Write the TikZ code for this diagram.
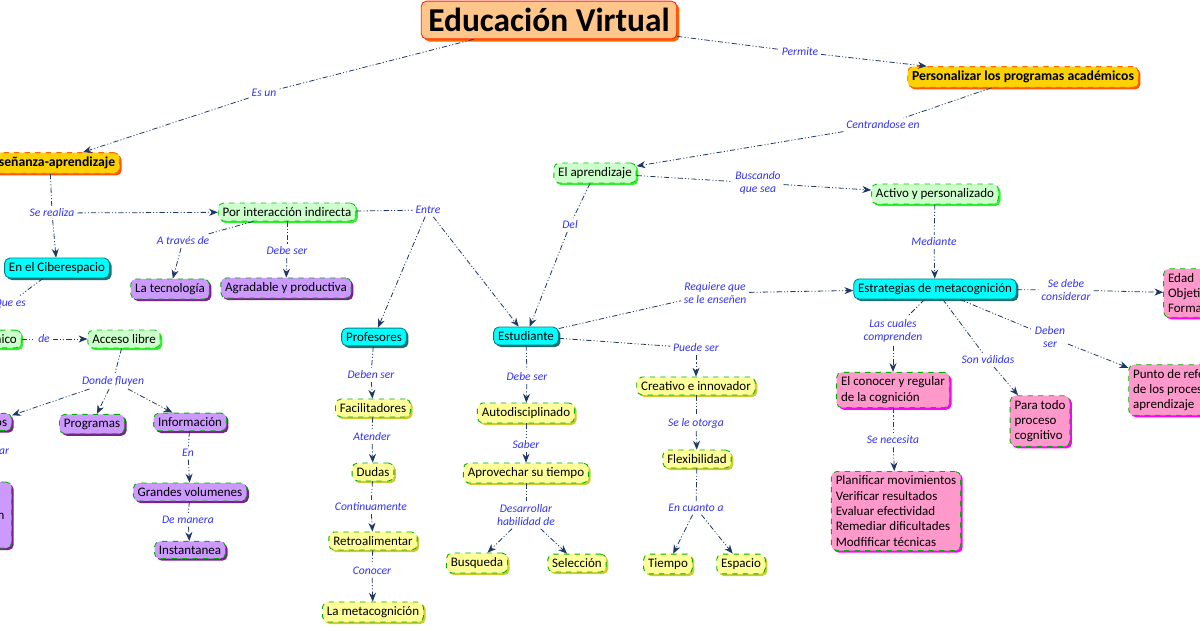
\documentclass[tikz,border=0pt]{standalone}
\usepackage{fontspec}
\setmainfont{Carlito}
\usetikzlibrary{shadows,arrows.meta}
\definecolor{lnc}{HTML}{1F3864}
\definecolor{lbc}{HTML}{3333EE}
\definecolor{cyfill}{HTML}{00FFFF}
\definecolor{cysh}{HTML}{1F6F6F}
\definecolor{pufill}{HTML}{CC99FF}
\definecolor{push}{HTML}{7A1F8F}
\definecolor{pkfill}{HTML}{FF99CC}
\definecolor{pksh}{HTML}{FF00FF}
\definecolor{yefill}{HTML}{FFFF99}
\definecolor{yesh}{HTML}{CCCC33}
\definecolor{grfill}{HTML}{CCFFCC}
\definecolor{grsh}{HTML}{33EE33}
\tikzset{
 box/.style={rounded corners=3pt,dashed,line width=0.5pt,inner sep=2.5pt,font=\fontsize{7.4}{8.7}\selectfont,align=left},
 orangebox/.style={box,draw=orange!80!red,fill=#1,drop shadow={shadow xshift=1.2pt,shadow yshift=-1.2pt,fill=orange!70!red,opacity=1}},
 gold/.style={orangebox=yellow!70!orange},
 grn/.style={box,draw=green!80!black,fill=grfill,drop shadow={shadow xshift=1.2pt,shadow yshift=-1.2pt,fill=grsh,opacity=1}},
 cyn/.style={box,draw=teal,fill=cyfill,solid,drop shadow={shadow xshift=1.2pt,shadow yshift=-1.2pt,fill=cysh,opacity=1}},
 pur/.style={box,draw=green!70!black,fill=pufill,drop shadow={shadow xshift=1.2pt,shadow yshift=-1.2pt,fill=push,opacity=1}},
 yel/.style={box,draw=green!70!black,fill=yefill,drop shadow={shadow xshift=1.2pt,shadow yshift=-1.2pt,fill=yesh,opacity=1}},
 pnk/.style={box,draw=green!70!black,fill=pkfill,drop shadow={shadow xshift=1.2pt,shadow yshift=-1.2pt,fill=pksh,opacity=1}},
 lab/.style={font=\fontsize{6.6}{7.6}\selectfont\itshape,text=lbc,align=center,inner sep=1.5pt},
 ln/.style={draw=lnc,line width=0.45pt,dash pattern=on 3pt off 1.2pt on 0.6pt off 1.2pt on 0.6pt off 1.2pt},
 ar/.style={ln,-{Stealth[length=5pt,width=4pt]}},
}
\begin{document}
\begin{tikzpicture}[x=0.02cm,y=-0.02cm]
\useasboundingbox (0,0) rectangle (1200,630);
\clip (0,0) rectangle (1200,630);
\fill[white] (0,0) rectangle (1200,630);
% nodes
\node[box,draw=red!70!orange,solid,fill=orange!45,font=\fontsize{19}{22}\selectfont\bfseries,inner sep=4pt,drop shadow={shadow xshift=1.5pt,shadow yshift=-1.5pt,fill=orange!80!red,opacity=1}] (t) at (549,20) {Educación Virtual};
\node[gold,font=\fontsize{7.8}{9}\selectfont\bfseries] (per) at (1023,77) {Personalizar los programas académicos};
\node[gold,font=\fontsize{7.8}{9}\selectfont\bfseries] (ens) at (50,163) {Enseñanza-aprendizaje};
\node[grn] (pii) at (287,212) {Por interacción indirecta};
\node[cyn] (cib) at (57,268) {En el Ciberespacio};
\node[pur] (tec) at (170,289) {La tecnología};
\node[pur] (agr) at (286,288) {Agradable y productiva};
\node[grn] (nic) at (-8,339) {Dinámico};
\node[grn] (acc) at (124,339) {Acceso libre};
\node[pur,anchor=east] (ss) at (12,422) {Datos};
\node[pur] (prg) at (92,424) {Programas};
\node[pur] (inf) at (190,422) {Información};
\node[pur] (gra) at (190,492) {Grandes volumenes};
\node[pur] (ins) at (190,550) {Instantanea};
\node[pur,anchor=east,minimum height=1.32cm,inner sep=4pt] (nn) at (12,515) {Comunicación};
\node[lab] (lar) at (-10,451) {Mejorar};
\node[cyn] (pro) at (374,337) {Profesores};
\node[yel] (fac) at (373,408) {Facilitadores};
\node[yel] (dud) at (373,472) {Dudas};
\node[yel] (ret) at (373,541) {Retroalimentar};
\node[yel] (lam) at (373,612) {La metacognición};
\node[cyn] (est) at (526,336) {Estudiante};
\node[yel] (aut) at (526,413) {Autodisciplinado};
\node[yel] (apr) at (526,473) {Aprovechar su tiempo};
\node[yel] (bus) at (477,563) {Busqueda};
\node[yel] (sel) at (577,563) {Selección};
\node[grn] (ela) at (595,173) {El aprendizaje};
\node[grn] (act) at (935,194) {Activo y personalizado};
\node[cyn] (emc) at (935,289) {Estrategias de metacognición};
\node[yel] (cre) at (696,386) {Creativo e innovador};
\node[yel] (fle) at (697,459) {Flexibilidad};
\node[yel] (tie) at (668,564) {Tiempo};
\node[yel] (esp) at (741,564) {Espacio};
\node[pnk] (eda) at (1193,293) {Edad\\Objetivos\\Formas};
\node[pnk] (con) at (893,390) {El conocer y regular\\de la cognición};
\node[pnk] (pat) at (1040,421) {Para todo\\proceso\\cognitivo};
\node[pnk] (pun) at (1185,390) {Punto de referencia\\de los procesos de\\aprendizaje};
\node[pnk] (pla) at (896,511) {Planificar movimientos\\Verificar resultados\\Evaluar efectividad\\Remediar dificultades\\Modfificar técnicas};
% labels
\node[lab] (l1) at (264,93) {Es un};
\node[lab] (l2) at (800,52) {Permite};
\node[lab] (l3) at (883,125) {Centrandose en};
\node[lab] (l4) at (52,213) {Se realiza};
\node[lab] (l5) at (428,210) {Entre};
\node[lab] (l6) at (183,241) {A través de};
\node[lab] (l7) at (287,251) {Debe ser};
\node[lab] (l8) at (10,303) {Que es};
\node[lab] (l9) at (44,339) {de};
\node[lab] (l10) at (113,381) {Donde fluyen};
\node[lab] (l11) at (188,453) {En};
\node[lab] (l12) at (188,520) {De manera};
\node[lab] (l13) at (371,375) {Deben ser};
\node[lab] (l14) at (372,437) {Atender};
\node[lab] (l15) at (371,507) {Continuamente};
\node[lab] (l16) at (372,571) {Conocer};
\node[lab] (l17) at (527,377) {Debe ser};
\node[lab] (l18) at (526,445) {Saber};
\node[lab] (l19) at (526,515) {Desarrollar\\habilidad de};
\node[lab] (l20) at (570,225) {Del};
\node[lab] (l21) at (758,183) {Buscando\\que sea};
\node[lab] (l22) at (934,242) {Mediante};
\node[lab] (l23) at (715,293) {Requiere que\\se le enseñen};
\node[lab] (l24) at (696,348) {Puede ser};
\node[lab] (l25) at (696,423) {Se le otorga};
\node[lab] (l26) at (696,508) {En cuanto a};
\node[lab] (l27) at (1066,290) {Se debe\\considerar};
\node[lab] (l28) at (893,331) {Las cuales\\comprenden};
\node[lab] (l29) at (988,360) {Son válidas};
\node[lab] (l30) at (1050,337) {Deben\\ser};
\node[lab] (l31) at (893,440) {Se necesita};
% connectors
\draw[ln] (t) -- (l1); \draw[ar] (l1) -- (ens);
\draw[ln] (t) -- (l2); \draw[ar] (l2) -- (per);
\draw[ln] (per) -- (l3); \draw[ar] (l3) -- (ela);
\draw[ln] (ens) -- (l4); \draw[ar] (l4) -- (pii); \draw[ar] (l4) -- (cib);
\draw[ln] (pii) -- (l5); \draw[ar] (l5) -- (pro); \draw[ar] (l5) -- (est);
\draw[ln] (pii) -- (l6); \draw[ar] (l6) -- (tec);
\draw[ln] (pii) -- (l7); \draw[ar] (l7) -- (agr);
\draw[ln] (cib) -- (l8);
\draw[ln] (nic) -- (l9); \draw[ar] (l9) -- (acc);
\draw[ln] (acc) -- (l10); \draw[ar] (l10) -- (ss); \draw[ar] (l10) -- (prg); \draw[ar] (l10) -- (inf);
\draw[ln] (inf) -- (l11); \draw[ar] (l11) -- (gra);
\draw[ln] (gra) -- (l12); \draw[ar] (l12) -- (ins);
\draw[ln] (pro) -- (l13); \draw[ar] (l13) -- (fac);
\draw[ln] (fac) -- (l14); \draw[ar] (l14) -- (dud);
\draw[ln] (dud) -- (l15); \draw[ar] (l15) -- (ret);
\draw[ln] (ret) -- (l16); \draw[ar] (l16) -- (lam);
\draw[ln] (est) -- (l17); \draw[ar] (l17) -- (aut);
\draw[ln] (aut) -- (l18); \draw[ar] (l18) -- (apr);
\draw[ln] (apr) -- (l19); \draw[ar] (l19) -- (bus); \draw[ar] (l19) -- (sel);
\draw[ln] (ela) -- (l20); \draw[ar] (l20) -- (est);
\draw[ln] (ela) -- (l21); \draw[ar] (l21) -- (act);
\draw[ln] (act) -- (l22); \draw[ar] (l22) -- (emc);
\draw[ln] (est) -- (l23); \draw[ar] (l23) -- (emc);
\draw[ln] (est) -- (l24); \draw[ar] (l24) -- (cre);
\draw[ln] (cre) -- (l25); \draw[ar] (l25) -- (fle);
\draw[ln] (fle) -- (l26); \draw[ar] (l26) -- (tie); \draw[ar] (l26) -- (esp);
\draw[ln] (emc) -- (l27); \draw[ar] (l27) -- (eda);
\draw[ln] (emc) -- (l28); \draw[ar] (l28) -- (con);
\draw[ln] (emc) -- (l29); \draw[ar] (l29) -- (pat);
\draw[ln] (emc) -- (l30); \draw[ar] (l30) -- (pun);
\draw[ln] (con) -- (l31); \draw[ar] (l31) -- (pla);
\end{tikzpicture}
\end{document}
